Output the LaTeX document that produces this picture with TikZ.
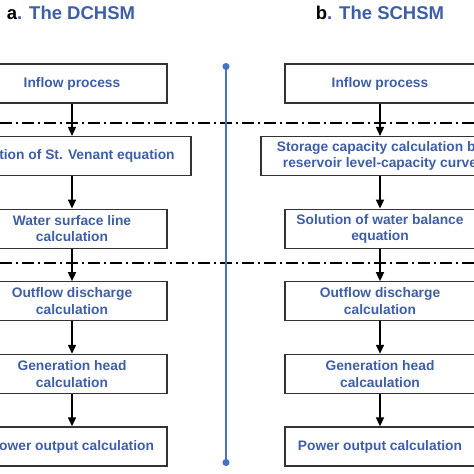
\documentclass[tikz,border=0pt]{standalone}
\usepackage{fontspec}
\setmainfont{Liberation Sans}
\usetikzlibrary{arrows.meta}
\definecolor{txtblue}{RGB}{62,94,166}
\definecolor{lineblue}{RGB}{68,114,196}
\tikzstyle{process} = [rectangle, 
minimum width=190pt, 
minimum height=39pt, 
align=center, 
draw=black!80, 
line width=1.3pt,
text=txtblue,
font=\fontsize{13.8}{16.5}\selectfont\bfseries]
\tikzstyle{wide} = [minimum width=238pt]
\tikzstyle{title} = [text=txtblue, font=\fontsize{18.5}{20}\selectfont\bfseries]
\tikzstyle{arrow} = [line width=1.5pt,->,>={Triangle[length=9pt,width=8pt]}]
\tikzstyle{sepline} = [line width=1.2pt, dash pattern=on 12pt off 4pt on 2pt off 4pt]

\begin{document}
\begin{tikzpicture}[x=1pt, y=-1pt, node distance=72.6pt]
\useasboundingbox (0,0) rectangle (474,474);
\clip (0,0) rectangle (474,474);

\node (titA) [title] at (71,13) {\textcolor{black}{a}. The DCHSM};
\node (titB) [title] at (380,13) {\textcolor{black}{b}. The SCHSM};

% left: DCHSM
\node (inA) [process] at (72,83.5) {Inflow process};
\node (stvA) [process, wide, below of=inA] {Solution of St. Venant equation};
\node (wslA) [process, below of=stvA] {Water surface line\\calculation};
\node (outA) [process, below of=wslA] {Outflow discharge\\calculation};
\node (genA) [process, below of=outA] {Generation head\\calculation};
\node (powA) [process, below of=genA] {Power output calculation};

% right: SCHSM
\node (inB) [process] at (380,83.5) {Inflow process};
\node (stoB) [process, wide, below of=inB] {Storage capacity calculation by\\reservoir level-capacity curve};
\node (balB) [process, below of=stoB] {Solution of water balance\\equation};
\node (outB) [process, below of=balB] {Outflow discharge\\calculation};
\node (genB) [process, below of=outB] {Generation head\\calcaulation};
\node (powB) [process, below of=genB] {Power output calculation};

% separators
\coordinate (s1l) at (0,123);
\coordinate (s1r) at (474,123);
\coordinate (s2l) at (0,263);
\coordinate (s2r) at (474,263);
\draw [sepline] (s1l) -- (s1r);
\draw [sepline] (s2l) -- (s2r);

\coordinate (midtop) at (226,63);
\coordinate (midbot) at (226,466);
\draw [lineblue, line width=1.2pt, {Circle[length=7pt]}-{Circle[length=7pt]}] (midtop) -- (midbot);

\draw [arrow] (inA) -- (stvA);
\draw [arrow] (stvA) -- (wslA);
\draw [arrow] (wslA) -- (outA);
\draw [arrow] (outA) -- (genA);
\draw [arrow] (genA) -- (powA);

\draw [arrow] (inB) -- (stoB);
\draw [arrow] (stoB) -- (balB);
\draw [arrow] (balB) -- (outB);
\draw [arrow] (outB) -- (genB);
\draw [arrow] (genB) -- (powB);

\end{tikzpicture}
\end{document}
